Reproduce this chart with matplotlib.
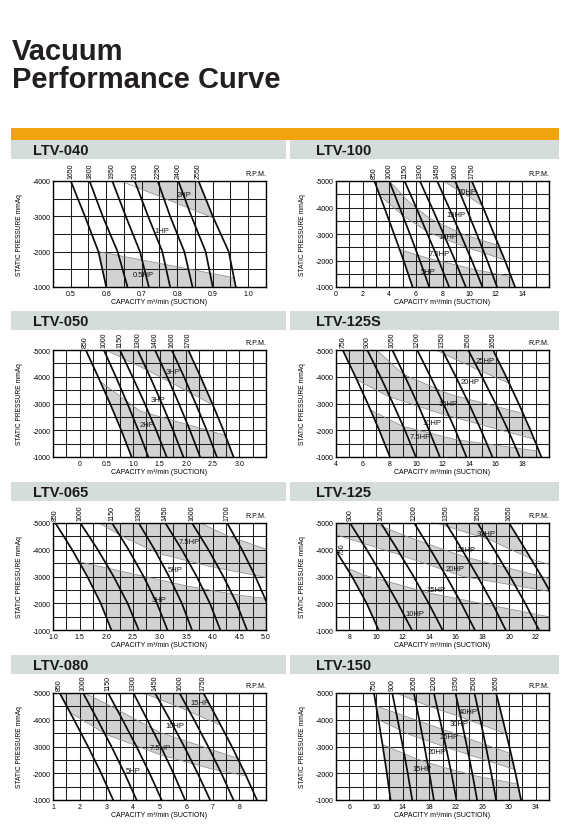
import matplotlib.pyplot as plt
from matplotlib import font_manager
from matplotlib.patches import Polygon, Rectangle
from matplotlib.ticker import FixedLocator, MultipleLocator

plt.rcParams['font.family'] = ['Liberation Sans', 'DejaVu Sans']
plt.rcParams['axes.unicode_minus'] = False

# ---------------- LTV-040 ----------------
ltv040_rpm = [1650, 1800, 1950, 2100, 2250, 2400, 2550]
ltv040_p = [-4000, -3000, -2000, -1000]
ltv040_q = [
    [0.500, 0.540, 0.578, 0.600],
    [0.553, 0.590, 0.632, 0.660],
    [0.617, 0.655, 0.695, 0.720],
    [0.680, 0.718, 0.758, 0.780],
    [0.745, 0.780, 0.820, 0.843],
    [0.803, 0.840, 0.880, 0.900],
    [0.860, 0.900, 0.945, 0.965],
]
ltv040_lines = {
    'a': [(0.641, -4000), (0.906, -2940), (1.0, -2600)],
    'b': [(0.50, -2150), (0.579, -2000), (0.966, -1250), (1.05, -1100)],
}
ltv040_bands = [(None, 'a', 3, 6), ('b', None, 0, 6)]
ltv040_hp = [('2HP', 0.818, -3625), ('1HP', 0.756, -2594), ('0.5HP', 0.703, -1350)]
ltv040_xticks = [0.5, 0.6, 0.7, 0.8, 0.9, 1.0]
ltv040_xlabels = ['0.5', '0.6', '0.7', '0.8', '0.9', '1.0']

# ---------------- LTV-100 ----------------
ltv100_rpm = [850, 1000, 1150, 1300, 1450, 1600, 1750]
ltv100_p = [-5000, -4000, -3000, -2000, -1000]
ltv100_q = [
    [2.88, 3.63, 4.36, 5.08, 5.75],
    [4.00, 4.78, 5.55, 6.30, 7.00],
    [5.15, 6.02, 6.87, 7.71, 8.50],
    [6.30, 7.20, 8.08, 8.94, 9.75],
    [7.60, 8.48, 9.35, 10.20, 11.00],
    [8.95, 9.77, 10.57, 11.36, 12.10],
    [10.20, 11.05, 11.87, 12.69, 13.45],
]
ltv100_lines = {
    'a': [(8.05, -5000), (9.55, -4540), (11.3, -3975), (13.0, -3550)],
    'b': [(2.0, -5000), (4.0, -5000), (5.5, -4200), (7.0, -3600), (9.5, -3000), (13.5, -2350)],
    'c': [(2.5, -4750), (3.2, -4500), (5.0, -3700), (7.0, -3050), (9.5, -2550), (14.0, -1800)],
    'd': [(3.5, -2800), (4.6, -2450), (6.8, -2100), (10.5, -1650), (14.0, -1300)],
}
ltv100_bands = [(None, 'a', 0, 6), ('b', 'c', 0, 6), ('d', None, 0, 6)]
ltv100_hp = [('20HP', 9.85, -4620), ('15HP', 9.0, -3740), ('10HP', 8.4, -2924),
             ('7.5HP', 7.77, -2257), ('5HP', 6.9, -1603)]
ltv100_xticks = [0, 2, 4, 6, 8, 10, 12, 14]
ltv100_xlabels = ['0', '2', '4', '6', '8', '10', '12', '14']

# ---------------- LTV-050 ----------------
ltv050_rpm = [850, 1000, 1150, 1300, 1400, 1600, 1700]
ltv050_p = [-5000, -4000, -3000, -2000, -1000]
ltv050_q = [
    [0.115, 0.347, 0.571, 0.782, 0.976],
    [0.454, 0.680, 0.897, 1.102, 1.290],
    [0.756, 0.993, 1.222, 1.437, 1.635],
    [1.089, 1.321, 1.545, 1.755, 1.949],
    [1.415, 1.644, 1.864, 2.072, 2.263],
    [1.730, 1.959, 2.179, 2.386, 2.577],
    [2.040, 2.270, 2.491, 2.700, 2.891],
]
ltv050_lines = {
    'a': [(0.49, -5000), (1.32, -4200), (2.48, -2970), (3.0, -2450)],
    'b': [(0.0, -4200), (0.38, -3840), (1.13, -2720), (2.77, -1790), (3.3, -1550)],
}
ltv050_bands = [(None, 'a', 0, 6), ('b', None, 0, 6)]
ltv050_hp = [('3HP', 1.76, -4178), ('3HP', 1.478, -3156), ('2HP', 1.258, -2221)]
ltv050_xticks = [0, 0.5, 1.0, 1.5, 2.0, 2.5, 3.0]
ltv050_xlabels = ['0', '0.5', '1.0', '1.5', '2.0', '2.5', '3.0']

# ---------------- LTV-125S ----------------
ltv125s_rpm = [750, 900, 1050, 1200, 1350, 1500, 1650]
ltv125s_p = [-5000, -4000, -3000, -2000, -1000]
ltv125s_q = [
    [4.50, 5.46, 6.38, 7.25, 8.05],
    [6.35, 7.34, 8.28, 9.18, 10.00],
    [8.23, 9.19, 10.12, 10.99, 11.80],
    [10.10, 11.10, 12.06, 12.97, 13.80],
    [11.98, 13.00, 13.98, 14.90, 15.75],
    [13.93, 14.97, 15.98, 16.93, 17.80],
    [15.80, 16.78, 17.72, 18.61, 19.43],
]
ltv125s_lines = {
    'a': [(11.5, -5000), (14.3, -4340), (16.9, -3780), (19.0, -3400)],
    'b': [(4.0, -5000), (7.05, -5000), (9.05, -4090), (12.55, -3343), (18.3, -2595), (20.0, -2450)],
    'c': [(4.5, -4100), (5.5, -3900), (8.0, -3250), (12.0, -2600), (19.0, -1650), (20.0, -1550)],
    'd': [(5.5, -3000), (6.5, -2780), (9.0, -2150), (13.0, -1650), (19.5, -1200), (20.5, -1150)],
}
ltv125s_bands = [(None, 'a', 0, 6), ('b', 'c', 0, 6), ('d', None, 0, 6)]
ltv125s_hp = [('25HP', 15.18, -4614), ('20HP', 14.05, -3816), ('15HP', 12.43, -2994),
              ('10HP', 11.18, -2284), ('7.5HP', 10.3, -1748)]
ltv125s_xticks = [4, 6, 8, 10, 12, 14, 16, 18]
ltv125s_xlabels = ['4', '6', '8', '10', '12', '14', '16', '18']

# ---------------- LTV-065 ----------------
ltv065_rpm = [850, 1000, 1150, 1300, 1450, 1600, 1700]
ltv065_p = [-5000, -4000, -3000, -2000, -1000]
ltv065_q = [
    [1.044, 1.360, 1.644, 1.896, 2.096],
    [1.513, 1.842, 2.138, 2.401, 2.609],
    [2.108, 2.421, 2.702, 2.952, 3.150],
    [2.609, 2.909, 3.179, 3.419, 3.610],
    [3.110, 3.420, 3.698, 3.946, 4.142],
    [3.610, 3.920, 4.199, 4.447, 4.643],
    [4.270, 4.550, 4.800, 5.020, 5.200],
]
ltv065_lines = {
    'a': [(1.0, -5000), (3.77, -5000), (4.27, -4530), (5.1, -3950)],
    'b': [(1.86, -5000), (2.4, -4400), (3.0, -3850), (4.0, -3350), (5.1, -2930)],
    'c': [(1.0, -3800), (1.6, -3500), (2.5, -3100), (3.5, -2650), (4.5, -2300), (5.1, -2150)],
}
ltv065_bands = [('a', 'b', 0, None), ('c', None, 0, None)]
ltv065_hp = [('7.5HP', 3.566, -4327), ('5HP', 3.297, -3268), ('3HP', 2.984, -2147)]
ltv065_xticks = [1.0, 1.5, 2.0, 2.5, 3.0, 3.5, 4.0, 4.5, 5.0]
ltv065_xlabels = ['1.0', '1.5', '2.0', '2.5', '3.0', '3.5', '4.0', '4.5', '5.0']

# ---------------- LTV-125 ----------------
ltv125_rpm = [750, 900, 1050, 1200, 1350, 1500, 1650]
ltv125_p = [-5000, -4000, -3000, -2000, -1000]
ltv125_q = [
    [5.60, 6.95, 8.20, 9.30, 10.20],
    [8.05, 9.31, 10.51, 11.65, 12.70],
    [10.375, 11.62, 12.83, 13.96, 15.00],
    [12.875, 14.10, 15.29, 16.41, 17.43],
    [15.25, 16.47, 17.64, 18.74, 19.75],
    [17.63, 18.88, 20.08, 21.21, 22.25],
    [20.00, 21.24, 22.44, 23.57, 24.60],
]
ltv125_lines = {
    'a': [(14.5, -5000), (18.55, -4375), (21.8, -3625), (23.6, -3375)],
    'b': [(6.0, -5000), (9.8, -5000), (12.3, -4500), (16.55, -3750), (22.93, -2937), (23.6, -2850)],
    'c': [(6.5, -4650), (7.0, -4560), (11.55, -3850), (16.55, -3000), (22.93, -2450), (23.6, -2400)],
    'd': [(6.5, -3600), (7.0, -3500), (9.05, -3063), (14.05, -2375), (22.93, -1500), (23.6, -1450)],
}
ltv125_bands = [(None, 'a', 0, 6), ('b', 'c', 0, None), ('d', None, 0, None)]
ltv125_hp = [('30HP', 18.3, -4625), ('25HP', 16.8, -4000), ('20HP', 15.93, -3313),
             ('15HP', 14.55, -2525), ('10HP', 12.93, -1625)]
ltv125_xticks = [8, 10, 12, 14, 16, 18, 20, 22]
ltv125_xlabels = ['8', '10', '12', '14', '16', '18', '20', '22']

# ---------------- LTV-080 ----------------
ltv080_rpm = [850, 1000, 1150, 1300, 1450, 1600, 1750]
ltv080_p = [-5000, -4000, -3000, -2000, -1000]
ltv080_q = [
    [1.25, 1.79, 2.315, 2.808, 3.26],
    [2.13, 2.67, 3.195, 3.688, 4.14],
    [3.07, 3.61, 4.135, 4.628, 5.08],
    [4.02, 4.54, 5.048, 5.524, 5.96],
    [4.83, 5.39, 5.927, 6.434, 6.90],
    [5.75, 6.30, 6.826, 7.323, 7.78],
    [6.65, 7.19, 7.715, 8.208, 8.66],
]
ltv080_lines = {
    'a': [(4.39, -5000), (5.8, -4450), (7.34, -3775), (8.3, -3450)],
    'b': [(1.0, -5000), (2.19, -5000), (3.14, -4525), (5.02, -3525), (8.04, -2525), (9.0, -2250)],
    'c': [(1.0, -4600), (1.6, -4300), (3.0, -3450), (5.0, -2700), (7.0, -2150), (8.5, -1850), (9.2, -1750)],
}
ltv080_bands = [(None, 'a', 0, 6), ('b', 'c', 0, 6)]
ltv080_hp = [('15HP', 6.53, -4650), ('10HP', 5.585, -3800), ('7.5HP', 5.02, -2962), ('5HP', 4.015, -2087)]
ltv080_xticks = [1, 2, 3, 4, 5, 6, 7, 8]
ltv080_xlabels = ['1', '2', '3', '4', '5', '6', '7', '8']

# ---------------- LTV-150 ----------------
ltv150_rpm = [750, 900, 1050, 1200, 1350, 1500, 1650]
ltv150_p = [-5000, -4000, -3000, -2000, -1000]
ltv150_q = [
    [9.70, 10.38, 11.03, 11.64, 12.20],
    [12.45, 13.26, 14.04, 14.78, 15.45],
    [15.70, 16.51, 17.29, 18.03, 18.70],
    [18.70, 19.62, 20.50, 21.34, 22.10],
    [21.95, 22.83, 23.67, 24.47, 25.20],
    [24.80, 25.68, 26.52, 27.32, 28.05],
    [28.05, 29.06, 30.04, 30.96, 31.80],
]
ltv150_lines = {
    'a': [(13.0, -5000), (18.0, -4500), (23.0, -4080), (30.3, -3400), (33.0, -3200)],
    'b': [(9.0, -4700), (10.2, -4500), (18.2, -3800), (30.2, -2740), (33.0, -2550)],
    'c': [(9.0, -4200), (10.4, -4000), (15.0, -3450), (20.2, -3000), (30.7, -2150), (33.0, -2000)],
    'd': [(9.0, -3400), (11.2, -3050), (16.0, -2550), (19.7, -2250), (25.0, -1900), (31.2, -1600), (33.0, -1550)],
}
ltv150_bands = [(None, 'a', 0, 6), ('b', 'c', 0, 6), ('d', None, 0, 6)]
ltv150_hp = [('40HP', 23.95, -4318), ('30HP', 22.45, -3852), ('25HP', 20.95, -3372),
             ('20HP', 19.2, -2829), ('15HP', 16.95, -2173)]
ltv150_xticks = [6, 10, 14, 18, 22, 26, 30, 34]
ltv150_xlabels = ['6', '10', '14', '18', '22', '26', '30', '34']

# name, data, x range, grid step, line clip curves, column, row
panels = [
    ('LTV-040', ltv040_rpm, ltv040_p, ltv040_q, ltv040_lines, ltv040_bands, ltv040_hp,
     ltv040_xticks, ltv040_xlabels, (0.45, 1.05), 0.05, (0, 6), 0, 0),
    ('LTV-100', ltv100_rpm, ltv100_p, ltv100_q, ltv100_lines, ltv100_bands, ltv100_hp,
     ltv100_xticks, ltv100_xlabels, (0, 16), 1, (0, 6), 1, 0),
    ('LTV-050', ltv050_rpm, ltv050_p, ltv050_q, ltv050_lines, ltv050_bands, ltv050_hp,
     ltv050_xticks, ltv050_xlabels, (-0.5, 3.5), 0.25, (0, 6), 0, 1),
    ('LTV-125S', ltv125s_rpm, ltv125s_p, ltv125s_q, ltv125s_lines, ltv125s_bands, ltv125s_hp,
     ltv125s_xticks, ltv125s_xlabels, (4, 20), 1, (0, 6), 1, 1),
    ('LTV-065', ltv065_rpm, ltv065_p, ltv065_q, ltv065_lines, ltv065_bands, ltv065_hp,
     ltv065_xticks, ltv065_xlabels, (1, 5), 0.25, (0, None), 0, 2),
    ('LTV-125', ltv125_rpm, ltv125_p, ltv125_q, ltv125_lines, ltv125_bands, ltv125_hp,
     ltv125_xticks, ltv125_xlabels, (7, 23), 1, (0, None), 1, 2),
    ('LTV-080', ltv080_rpm, ltv080_p, ltv080_q, ltv080_lines, ltv080_bands, ltv080_hp,
     ltv080_xticks, ltv080_xlabels, (1, 9), 0.5, (0, 6), 0, 3),
    ('LTV-150', ltv150_rpm, ltv150_p, ltv150_q, ltv150_lines, ltv150_bands, ltv150_hp,
     ltv150_xticks, ltv150_xlabels, (4, 36), 2, (0, 6), 1, 3),
]

W, H = 584, 829
fig = plt.figure(figsize=(W / 100, H / 100), dpi=100)


def fig_box(l, t, r, b):
    return [l / W, 1 - b / H, (r - l) / W, (b - t) / H]


def fig_rect(l, t, r, b, color):
    fig.add_artist(Rectangle((l / W, 1 - b / H), (r - l) / W, (b - t) / H,
                             transform=fig.transFigure, color=color, lw=0))


# title
installed = {f.name for f in font_manager.fontManager.ttflist}
if 'Liberation Sans Narrow' in installed:
    tfam, tsize = 'Liberation Sans Narrow', 25
else:
    tfam, tsize = 'Liberation Sans', 21
fig.text(12 / W, 1 - 60 / H, 'Vacuum', family=tfam, size=tsize, weight='bold',
         color='#231f20', va='baseline')
fig.text(12 / W, 1 - 88 / H, 'Performance Curve', family=tfam, size=tsize, weight='bold',
         color='#231f20', va='baseline')

fig_rect(11, 129, 559, 141, '#f2a20c')

col_l = [(53, 266), (336, 549)]
row_axes = [(182, 288), (351, 458), (524, 631), (694, 801)]
row_head = [141, 312, 483, 656]
head_x = [(11, 286, 33), (290, 559, 316)]


def draw_panel(ax, name, rpm, p, q, lines, bands, hp, xticks, xlabels, xlim, xstep, lclip):
    ptop, pbot = p[0], p[-1]
    span = xlim[1] - xlim[0]
    ax.set_xlim(*xlim)
    ax.set_ylim(pbot, ptop)
    ax.xaxis.set_major_locator(FixedLocator(xticks))
    ax.set_xticklabels(xlabels)
    ax.xaxis.set_minor_locator(MultipleLocator(xstep))
    yt = list(range(ptop, pbot + 1, 1000))
    ax.set_yticks(yt)
    ax.set_yticklabels([str(v) for v in yt])
    ax.yaxis.set_minor_locator(MultipleLocator(500))
    ax.tick_params(which='both', length=0, labelsize=5, pad=2)
    ax.grid(which='both', color='#1e1e1e', lw=0.75)
    ax.set_axisbelow(True)
    for s in ax.spines.values():
        s.set_linewidth(1.0)

    def env(li, ri):
        if li is None:
            left = [(xlim[0] - span, ptop), (xlim[0] - span, pbot)]
        else:
            left = list(zip(q[li], p))
        if ri is None:
            right = [(xlim[1] + span, pbot), (xlim[1] + span, ptop)]
        else:
            right = list(zip(q[ri], p))[::-1]
        return Polygon(left + right, closed=True, transform=ax.transData)

    top_edge = [(xlim[0] - span, ptop - 1000), (xlim[1] + span, ptop - 1000)]
    bot_edge = [(xlim[0] - span, pbot + 1000), (xlim[1] + span, pbot + 1000)]
    for up, lo, li, ri in bands:
        upper = lines[up] if up else top_edge
        lower = lines[lo] if lo else bot_edge
        poly = Polygon(upper + lower[::-1], closed=True, fc='#d2d2d2', ec='none', zorder=0.2)
        ax.add_patch(poly)
        poly.set_clip_path(env(li, ri))
        poly.set_clip_box(ax.bbox)

    lenv = env(*lclip)
    for pts in lines.values():
        xs, ys = zip(*pts)
        ln, = ax.plot(xs, ys, color='#8f8f8f', lw=0.55, zorder=1.2)
        ln.set_clip_path(lenv)
        ln.set_clip_box(ax.bbox)

    tr = ax.get_xaxis_transform()
    for r, qs in zip(rpm, q):
        ax.plot(qs, p, color='#0d0d0d', lw=1.25, zorder=2, solid_joinstyle='round')
        if xlim[0] <= qs[0] <= xlim[1]:
            ax.text(qs[0], 1.03, str(r), transform=tr, rotation=90, ha='center',
                    va='bottom', fontsize=5)
        else:
            # curve enters through the left border: label sits inside the grid
            ax.text(xlim[0] + 0.03 * span, ptop + 0.24 * (pbot - ptop), str(r), rotation=90,
                    ha='center', va='center', fontsize=5, zorder=3)
    ax.text(1.0, 1.04, 'R.P.M.', transform=ax.transAxes, ha='right', va='bottom', fontsize=5)

    for t, x, y in hp:
        ax.text(x, y, t, fontsize=5.5, ha='center', va='center', zorder=3, color='#111111')

    ax.set_xlabel('CAPACITY m³/min (SUCTION)', fontsize=5)
    ax.xaxis.set_label_coords(0.5, -0.1)
    ax.set_ylabel('STATIC PRESSURE mmAq', fontsize=4.8)
    ax.yaxis.set_label_coords(-0.14, 0.5)


for (name, rpm, p, q, lines, bands, hp, xticks, xlabels, xlim, xstep, lclip, col, row) in panels:
    ht = row_head[row]
    hl, hr, tx = head_x[col]
    fig_rect(hl, ht, hr, ht + 19, '#d5dcdc')
    fig.text(tx / W, 1 - (ht + 10) / H, name, fontsize=10.5, weight='bold',
             color='#1a1a1a', va='center')
    l, r = col_l[col]
    t, b = row_axes[row]
    ax = fig.add_axes(fig_box(l, t, r, b))
    draw_panel(ax, name, rpm, p, q, lines, bands, hp, xticks, xlabels, xlim, xstep, lclip)

fig.savefig('out.png', dpi=100)
